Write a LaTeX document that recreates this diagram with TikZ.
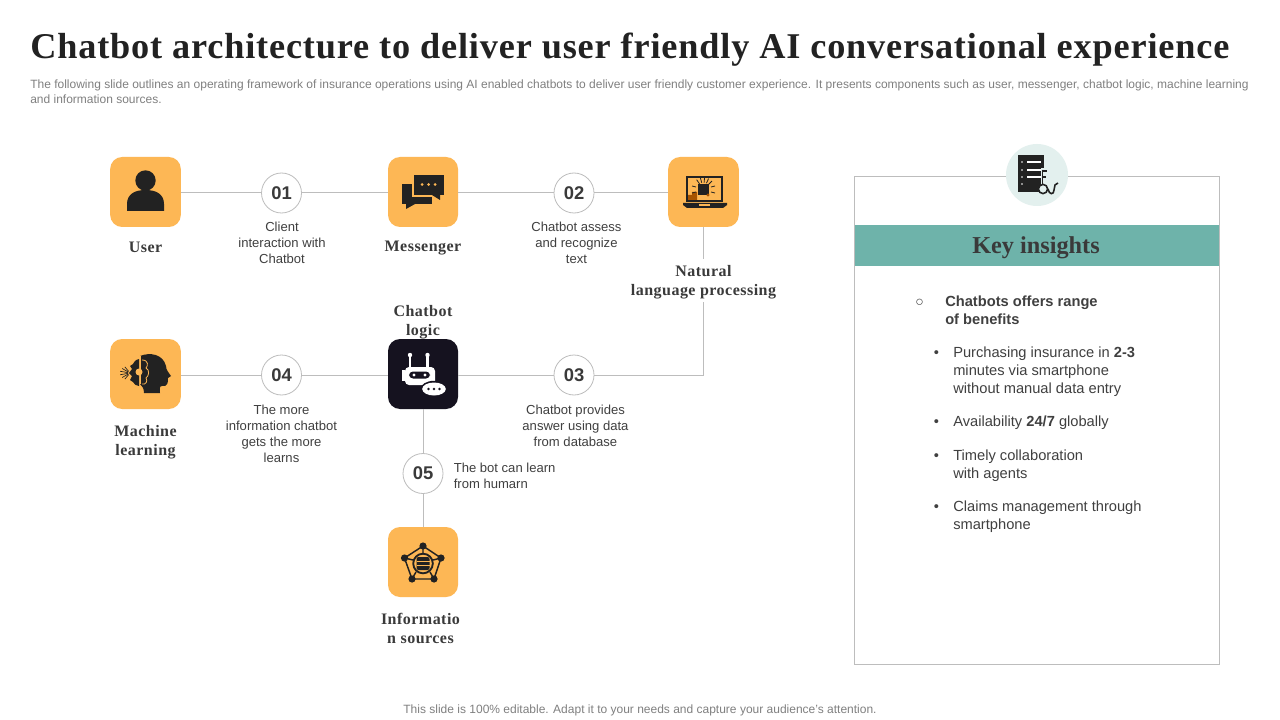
\documentclass[tikz,border=0pt]{standalone}
\usepackage{fontspec}
\setmainfont{Liberation Sans}
\newfontfamily\serifbold[LetterSpace=2.3]{Liberation Serif}
\newfontfamily\serifcap[LetterSpace=3]{Liberation Serif}
\newfontfamily\serifplain{Liberation Serif}
\definecolor{orangebox}{HTML}{FDB755}
\definecolor{ink}{HTML}{222222}
\definecolor{darkbox}{HTML}{15121F}
\definecolor{linegray}{HTML}{BDBDBD}
\definecolor{teal1}{HTML}{6EB3AA}
\definecolor{paletl}{HTML}{E3F0EE}
\definecolor{tgray}{HTML}{808080}
\definecolor{bodytxt}{HTML}{404040}
\definecolor{heading}{HTML}{3A3A3A}
\tikzset{
  iconbox/.style={draw=none,fill=orangebox,rounded corners=9pt,minimum width=52.5pt,minimum height=52.5pt,inner sep=0pt},
  numc/.style={circle,draw=linegray,fill=white,line width=0.6pt,minimum size=30pt,inner sep=0pt,font=\fontsize{13.8}{14}\selectfont\bfseries,text=heading},
  conn/.style={draw=linegray,line width=0.75pt},
  captxt/.style={font=\serifcap\bfseries\fontsize{12}{14.3}\selectfont,text=heading,align=center,inner sep=0pt},
  desc/.style={font=\fontsize{9.8}{12}\selectfont,text=bodytxt,align=center,inner sep=0pt},
  ins/.style={font=\fontsize{11}{13.5}\selectfont,text=bodytxt,align=left,inner sep=0pt,anchor=north west},
  graynote/.style={font=\fontsize{9}{10.6}\selectfont,text=tgray,inner sep=0pt},
}
\begin{document}
\begin{tikzpicture}[x=0.75pt,y=-0.75pt]
\useasboundingbox (0,0) rectangle (1280,720);
\fill[white] (0,0) rectangle (1280,720);
% title
\node[anchor=base west,inner sep=0pt,text=ink] (title) at (30,59) {\serifbold\bfseries\fontsize{27.2}{30}\selectfont Chatbot architecture to deliver user friendly AI conversational experience};
\node[graynote,anchor=north west,align=left] (sub) at (30,80) {The following slide outlines an operating framework of insurance operations using AI enabled chatbots to deliver user friendly customer experience. It presents components such as user, messenger, chatbot logic, machine learning\\and information sources.};
\node[graynote,anchor=base] (foot) at (640,713) {This slide is 100\% editable. Adapt it to your needs and capture your audience's attention.};
% boxes
\node[iconbox,minimum width=53pt] (user) at (145.5,192) {};
\node[iconbox] (msg) at (423,192) {};
\node[iconbox,minimum width=53pt] (nlp) at (703.5,192) {};
\node[iconbox,minimum width=53pt] (ml) at (145.5,374) {};
\node[iconbox,fill=darkbox] (bot) at (423,374) {};
\node[iconbox] (info) at (423,562) {};
% numbers
\node[numc] (n1) at (281.5,193) {01};
\node[numc] (n2) at (574,193) {02};
\node[numc] (n3) at (574,375) {03};
\node[numc] (n4) at (281.5,375) {04};
\node[numc] (n5) at (423,473.5) {05};
% captions
\node[captxt] (cuser) at (145.5,247) {User};
\node[captxt] (cmsg) at (423,248) {Messenger};
\node[captxt] (cnlp) at (703.5,282.5) {Natural\\language processing};
\node[captxt] (cbot) at (423,322.5) {Chatbot\\logic};
\node[captxt] (cml) at (145.5,442.5) {Machine\\learning};
\node[captxt] (cinfo) at (420.5,628.5) {Informatio\\n sources};
% descriptions
\node[desc] (d1) at (282,242.5) {Client\\interaction with\\Chatbot};
\node[desc] (d2) at (576.5,242.5) {Chatbot assess\\and recognize\\text};
\node[desc] (d3) at (575.5,425.5) {Chatbot provides\\answer using data\\from database};
\node[desc] (d4) at (281.5,433.5) {The more\\information chatbot\\gets the more\\learns};
\node[desc,align=left,anchor=west] (d5) at (453.5,475.5) {The bot can learn\\from humarn};
% connectors
\coordinate (elbow) at (703.5,375);
\draw[conn] (user.east |- n1) -- (n1);
\draw[conn] (n1) -- (msg.west |- n1);
\draw[conn] (msg.east |- n2) -- (n2);
\draw[conn] (n2) -- (nlp.west |- n2);
\draw[conn] (nlp) -- ([yshift=4.5pt]cnlp.north);
\draw[conn] ([yshift=-2pt]cnlp.south) -- (elbow) -- (n3);
\draw[conn] (n3) -- (bot.east |- n3);
\draw[conn] (bot.west |- n4) -- (n4);
\draw[conn] (n4) -- (ml.east |- n4);
\draw[conn] (bot) -- (n5);
\draw[conn] (n5) -- (info);
% panel
\node[draw=linegray,line width=0.75pt,minimum width=273.75pt,minimum height=366pt,inner sep=0pt] (panel) at (1037,420.5) {};
\node[fill=teal1,minimum width=273pt,minimum height=30.75pt,inner sep=0pt,font=\serifplain\bfseries\fontsize{18.2}{20}\selectfont,text=heading] (head) at (1037,245.5) {\hspace*{-1.5pt}\raisebox{-5.7pt}[0pt][0pt]{Key insights}};
\node[circle,fill=paletl,minimum size=46.5pt,inner sep=0pt] (badge) at (1037,175) {};
% panel text
\node[ins,font=\fontsize{11}{13.5}\selectfont\bfseries] (t0) at (945,296) {Chatbots offers range\\of benefits};
\node[ins,font=\fontsize{10.5}{10}\selectfont,anchor=center] (b0) at (919.5,302.5) {○};
\node[ins] (t1) at (953,347) {Purchasing insurance in \textbf{2-3}\\minutes via smartphone\\without manual data entry};
\node[ins] (t2) at (953,416) {Availability \textbf{24/7} globally};
\node[ins] (t3) at (953,450) {Timely collaboration\\with agents};
\node[ins] (t4) at (953,501) {Claims management through\\smartphone};
\foreach \nm/\yy in {c1/354,c2/423,c3/457,c4/508}{\node[ins,anchor=center] (\nm) at (936.5,\yy) {•};}
% --- icons ---
% user
\fill[ink] (145.5,180.5) circle (10.2);
\fill[ink] (127,211) -- (127,204) .. controls (127,194) and (135,190) .. (145.5,190) .. controls (156,190) and (164,194) .. (164,204) -- (164,211) -- cycle;
% messenger
\fill[ink] (402,184) rectangle (432,204);
\fill[ink] (406,204) -- (406,209) -- (415,204) -- cycle;
\fill[orangebox] (412,182) rectangle (446,197);
\fill[ink] (414,175) rectangle (444,195);
\fill[ink] (432,195) -- (440,200) -- (440,195) -- cycle;
\foreach \xx in {422,428.5,435}{\fill[orangebox] (\xx,184.5) circle (1.5);}
% laptop
\fill[ink] (686,176) rectangle (723,202);
\fill[orangebox] (688,178) rectangle (721,200);
\fill[ink] (683,203) -- (727,203) -- (727,205) -- (723,208) -- (687,208) -- (683,205) -- cycle;
\fill[orangebox] (699,204.5) rectangle (710,206);
\fill[orange!65!black] (688,200) -- (688,195) -- (692,195) -- (692,192) -- (697,192) -- (697,200) -- cycle;
\foreach \aa in {-45,-65,...,-135}{\draw[ink,line width=0.6pt] (703.5,189.5) ++(\aa:7) -- ++(\aa:5);}
\draw[ink,line width=0.6pt] (696,187) -- (692,186) (711,187) -- (715,186) (696,192) -- (692,193) (711,192) -- (715,193);
\fill[ink] (698,184) rectangle (709,195);
\fill[orange!65!black] (708,195) circle (1.6);
% machine learning head
\fill[ink] (140,356) .. controls (150,352) and (163,354) .. (166,366) .. controls (166,370) and (169,373) .. (171,376) -- (168,378) .. controls (168,382) and (168,387) .. (162,386) .. controls (159,386) and (160,389) .. (160,393) -- (144,393) .. controls (144,388) and (142,386) .. (140,384) -- cycle;
\draw[orangebox,line width=0.7pt] (140,356) -- (140,384);
\draw[orangebox,line width=0.6pt] (142,360) .. controls (149,360) and (148,366) .. (146,368) .. controls (150,370) and (149,376) .. (146,378) .. controls (148,381) and (146,385) .. (142,384);
\fill[ink] (139,359) .. controls (135,360) and (134,362) .. (133,364) -- (130,366) -- (132,369) -- (129,373) -- (132,376) -- (130,380) -- (133,382) .. controls (134,384) and (136,386) .. (139,386) -- cycle;
\fill[orangebox] (139,372) circle (3.5);
\foreach \aa/\ll in {150/7,170/8,190/8,210/7,130/6,230/6}{\draw[ink,line width=0.5pt] (130,373) ++(\aa:2) -- ++(\aa:\ll);}
% robot
\draw[white,line width=1.8pt] (410,355) -- (410,368) (427.5,355) -- (427.5,368);
\fill[white] (410,355) circle (2.2) (427.5,355) circle (2.2);
\fill[white,rounded corners=3pt] (405,367) rectangle (435,385);
\fill[white] (402,370) rectangle (404.5,381);
\fill[darkbox,rounded corners=3pt] (409,371.5) rectangle (430,378.5);
\fill[white] (414,375) circle (1.6) (425,375) circle (1.6);
\fill[darkbox] (434,389) ellipse (13.5 and 8.2);
\fill[white] (434,389) ellipse (11.8 and 6.5);
\foreach \xx in {428.5,434,439.5}{\fill[darkbox] (\xx,389) circle (1.4);}
% information sources
\coordinate (p1) at (423,546);
\coordinate (p2) at (441,558);
\coordinate (p3) at (434,579);
\coordinate (p4) at (412,579);
\coordinate (p5) at (404.5,558);
\draw[ink,line width=1.1pt] (p1)--(p2)--(p3)--(p4)--(p5)--cycle;
\draw[ink,line width=1.1pt] (p1)--(423,553) (p2)--(433,560) (p3)--(430,572) (p4)--(416,572) (p5)--(413,560);
\foreach \pp in {p1,p2,p3,p4,p5}{\fill[ink] (\pp) circle (3.6);}
\draw[ink,line width=1.4pt,fill=orangebox] (423,563.5) circle (9.8);
\fill[ink,rounded corners=1.5pt] (416.5,557) rectangle (429.5,570);
\draw[orangebox,line width=0.7pt] (416.5,561.5) -- (429.5,561.5) (416.5,565.5) -- (429.5,565.5);
% badge: document and stethoscope
\fill[ink] (1018,155) rectangle (1041,192);
\fill[ink] (1041,155) rectangle (1044,168);
\foreach \yy in {162,170,177,184}{\fill[white] (1022,\yy) circle (0.9);}
\foreach \yy in {162,170,177}{\draw[white,line width=0.8pt] (1027,\yy) -- (1041,\yy);}
\draw[ink,line width=1pt] (1042.5,170) -- (1042.5,184) (1042.5,171) -- (1046.5,171) (1042.5,177) -- (1045.5,177);
\draw[ink,line width=1.2pt,fill=paletl] (1043,189) circle (4.6);
\draw[ink,line width=1.2pt] (1048,189) .. controls (1049,195) and (1054,195) .. (1054,190) -- (1055,185) -- (1058,183);
\end{tikzpicture}
\end{document}
